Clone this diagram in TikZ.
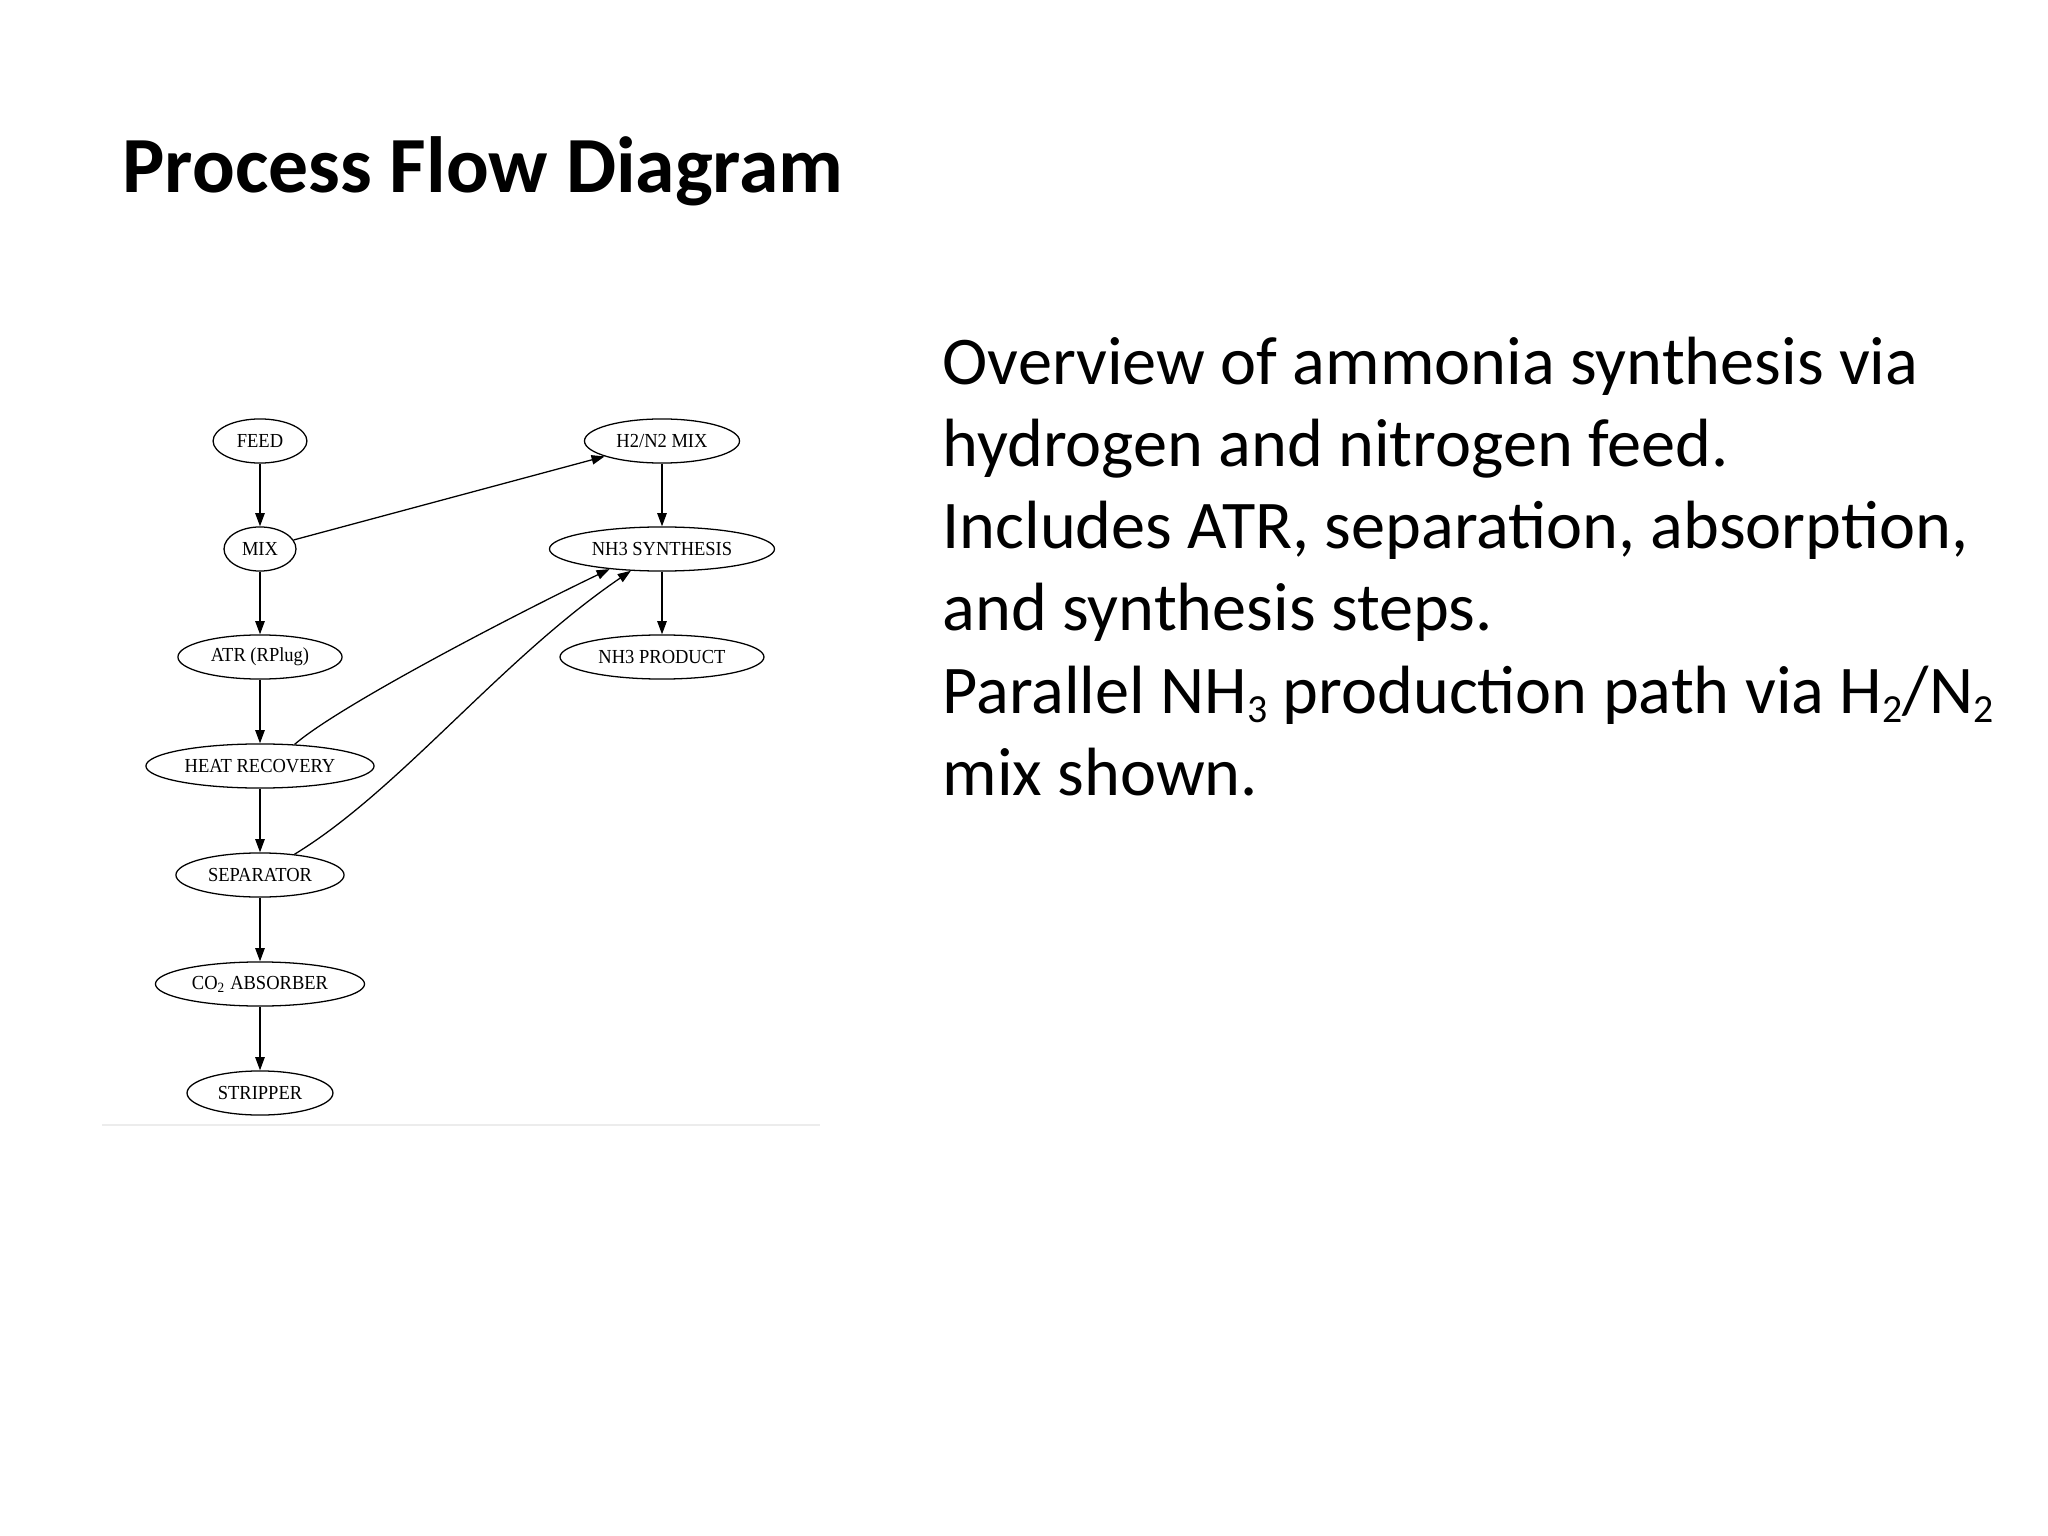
\documentclass[tikz,border=0pt]{standalone}
\usepackage{fontspec}
\usepackage{graphicx}
\setmainfont{Carlito}
\newfontfamily\gvfont{Liberation Serif}
\newcommand\lowdigit[1]{\raisebox{-0.14em}{\fontsize{14}{14}\selectfont #1}}
\usetikzlibrary{shapes.geometric,arrows.meta}
\begin{document}
\begin{tikzpicture}[x=0.3515625pt,y=-0.3515625pt,
  unit/.style={ellipse,draw,line width=0.45pt,inner sep=0pt,minimum height=15.5pt,
    font=\gvfont\fontsize{7}{8}\selectfont},
  flow/.style={draw,line width=0.45pt,-{Triangle[length=4.6pt,width=3.3pt]}},
  bodyline/.style={anchor=base west,inner sep=0pt,font=\fontsize{24}{29}\selectfont}]
\useasboundingbox[fill=white] (0,0) rectangle (2048,1536);

% title
\node[anchor=base west,inner sep=0pt,font=\fontsize{28}{34}\selectfont\bfseries] (title) at (122,193) {Process Flow Diagram};

% description
\node[bodyline] (l1) at (942,385) {Overview of ammonia synthesis via};
\node[bodyline] (l2) at (942,467) {hydrogen and nitrogen feed.};
\node[bodyline] (l3) at (942,549) {Includes ATR, separation, absorption,};
\node[bodyline] (l4) at (942,631) {and synthesis steps.};
\node[bodyline] (l5) at (942,713) {Parallel NH\lowdigit{3} production path via H\lowdigit{2}/N\lowdigit{2}};
\node[bodyline] (l6) at (942,795) {mix shown.};

% diagram nodes
\node[unit,minimum width=33pt] (feed) at (260,441) {\scalebox{0.93}[1]{FEED}};
\node[unit,minimum width=25.3pt] (mix) at (260,549) {\scalebox{0.93}[1]{MIX}};
\node[unit,minimum width=57.7pt] (atr) at (260,657) {\scalebox{0.93}[1]{ATR (RPlug)}};
\node[unit,minimum width=80.2pt] (heat) at (260,766) {\scalebox{0.93}[1]{HEAT RECOVERY}};
\node[unit,minimum width=59.1pt] (sep) at (260,875) {\scalebox{0.93}[1]{SEPARATOR}};
\node[unit,minimum width=73.5pt] (co2) at (260,984) {\scalebox{0.93}[1]{CO\textsubscript{2} ABSORBER}};
\node[unit,minimum width=51.3pt] (strip) at (260,1093) {\scalebox{0.93}[1]{STRIPPER}};
\node[unit,minimum width=54.5pt] (h2n2) at (662,441) {\scalebox{0.93}[1]{H2/N2 MIX}};
\node[unit,minimum width=79.1pt] (syn) at (662,549) {\scalebox{0.93}[1]{NH3 SYNTHESIS}};
\node[unit,minimum width=71.7pt] (prod) at (662,657) {\scalebox{0.93}[1]{NH3 PRODUCT}};

% connectors
\draw[flow] (feed) -- (mix);
\draw[flow] (mix) -- (atr);
\draw[flow] (atr) -- (heat);
\draw[flow] (heat) -- (sep);
\draw[flow] (sep) -- (co2);
\draw[flow] (co2) -- (strip);
\draw[flow] (mix) -- (h2n2);
\draw[flow] (h2n2) -- (syn);
\draw[flow] (syn) -- (prod);
\draw[flow] (heat.32) .. controls (340,705) and (520,612) .. (syn.201);
\draw[flow] (sep.31) .. controls (400,790) and (500,660) .. (syn.215);

% faint frame edge of the embedded figure
\draw[gray!15,line width=0.5pt] (102,1125) -- (820,1125);
\end{tikzpicture}
\end{document}
